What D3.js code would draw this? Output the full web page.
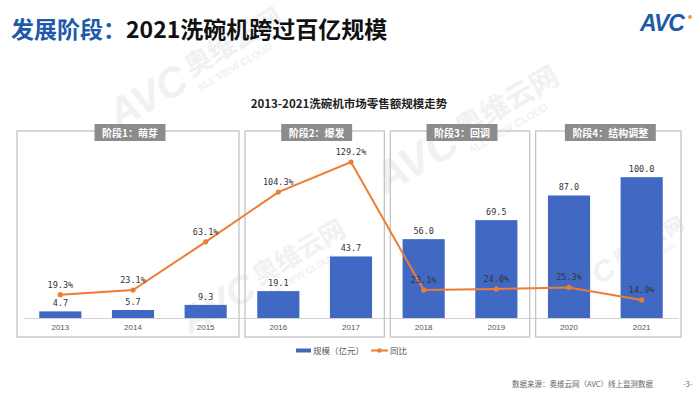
<!DOCTYPE html>
<html>
<head>
<meta charset="utf-8">
<script src="https://cdn.jsdelivr.net/npm/d3@7"></script>
<style>
  body { margin: 0; background: #fff; }
  svg { display: block; font-family: "Noto Sans CJK SC", "Noto Sans", sans-serif; }
</style>
</head>
<body>
<div id="chart"></div>
<script>
// chart data
var years = ["2013", "2014", "2015", "2016", "2017", "2018", "2019", "2020", "2021"];
var marketSize = [4.7, 5.7, 9.3, 19.1, 43.7, 56.0, 69.5, 87.0, 100.0];   // 规模（亿元）
var yoyGrowth = [19.3, 23.1, 63.1, 104.3, 129.2, 23.1, 24.0, 25.3, 14.9]; // 同比 %
var phaseNames = ["阶段1：萌芽", "阶段2：爆发", "阶段3：回调", "阶段4：结构调整"];
var phaseStart = ["2013", "2016", "2018", "2020"];
var phaseEnd = ["2015", "2017", "2019", "2021"];

var width = 700, height = 393;
var svg = d3.select("#chart").append("svg").attr("width", width).attr("height", height);
svg.append("rect").attr("width", width).attr("height", height).attr("fill", "#fff");

// faint watermarks in the background
var wmGroup = svg.append("g").attr("fill", "#f1f1f1");
[[118, 130, 0.9], [385, 195, 0.95], [190, 335, 0.85], [565, 305, 0.65]].forEach(function(p) {
  var g = wmGroup.append("g").attr("transform", "translate(" + p[0] + "," + p[1] + ") rotate(-30) scale(" + p[2] + ")");
  g.append("text").attr("font-size", 46).attr("font-weight", "bold").attr("font-style", "italic")
    .attr("font-family", "Liberation Sans, sans-serif").text("AVC");
  g.append("text").attr("x", 100).attr("y", -10).attr("font-size", 30).attr("font-weight", "bold").text("奥维云网");
  g.append("text").attr("x", 100).attr("y", 8).attr("font-size", 11).attr("font-weight", "bold")
    .attr("font-family", "Liberation Sans, sans-serif").text("ALL VIEW CLOUD");
});

// page title
var title = svg.append("text").attr("x", 11).attr("y", 38).attr("font-size", 23).attr("font-weight", "bold");
title.append("tspan").attr("fill", "#1d5aa7").text("发展阶段：");
title.append("tspan").attr("fill", "#111").text("2021洗碗机跨过百亿规模");

// AVC logo
var logo = svg.append("g");
logo.append("text").attr("x", 640).attr("y", 31).attr("font-size", 23).attr("font-weight", "bold")
  .attr("font-style", "italic").attr("font-family", "Liberation Sans, sans-serif")
  .attr("fill", "#1d5aa7").attr("letter-spacing", -1).text("AVC");
logo.append("circle").attr("cx", 690).attr("cy", 17).attr("r", 2).attr("fill", "#f0a030");

// chart title
svg.append("text").attr("x", 349).attr("y", 108).attr("text-anchor", "middle")
  .attr("font-size", 11.5).attr("font-weight", "bold").attr("fill", "#222")
  .text("2013-2021洗碗机市场零售额规模走势");

// scales
var xScale = d3.scaleBand().domain(years).range([24, 678]).paddingInner(0.42).paddingOuter(0.21);
var yBar = d3.scaleLinear().domain([0, 120]).range([318, 149]);
var yLine = d3.scaleLinear().domain([0, 140]).range([318, 149]);

var step = xScale.step();
function edgeOf(year) { return xScale(year) - step * 0.21; }

// phase boxes
phaseNames.forEach(function(name, i) {
  var left = i === 0 ? edgeOf(phaseStart[i]) - 7 : edgeOf(phaseStart[i]) + 3;
  var right = i === phaseNames.length - 1 ? edgeOf(phaseEnd[i]) + step + 3 : edgeOf(phaseEnd[i]) + step - 3;
  svg.append("rect").attr("x", left).attr("y", 131).attr("width", right - left).attr("height", 206)
    .attr("fill", "none").attr("stroke", "#c4c4c4").attr("stroke-width", 1.3);
  var cx = (left + right) / 2;
  var tag = svg.append("g");
  var tagRect = tag.append("rect").attr("y", 124).attr("height", 17).attr("fill", "#8c8c8c");
  var tagText = tag.append("text").attr("x", cx + 2).attr("y", 136.5).attr("text-anchor", "middle")
    .attr("font-size", 10).attr("font-weight", "bold").attr("fill", "#fff").text(name);
  var tw = tagText.node().getComputedTextLength() + 15;
  tagRect.attr("x", cx + 2 - tw / 2).attr("width", tw);
});

// x axis
var xAxis = svg.append("g").attr("transform", "translate(0,318)")
  .call(d3.axisBottom(xScale).tickSize(0).tickPadding(6));
xAxis.select(".domain").attr("stroke", "#d0d0d0");
xAxis.selectAll("text").attr("font-size", 8).attr("fill", "#555")
  .attr("font-family", "Liberation Sans, sans-serif");

// bars
svg.append("g").selectAll("rect").data(marketSize).enter().append("rect")
  .attr("x", function(d, i) { return xScale(years[i]); })
  .attr("y", function(d) { return yBar(d); })
  .attr("width", xScale.bandwidth())
  .attr("height", function(d) { return yBar(0) - yBar(d); })
  .attr("fill", "#4169c4");

svg.append("g").selectAll("text").data(marketSize).enter().append("text")
  .attr("x", function(d, i) { return xScale(years[i]) + xScale.bandwidth() / 2; })
  .attr("y", function(d) { return yBar(d) - 5; })
  .attr("text-anchor", "middle").attr("font-size", 8.5).attr("fill", "#333")
  .attr("font-family", "DejaVu Sans Mono, monospace")
  .text(function(d) { return d.toFixed(1); });

// growth line
var line = d3.line()
  .x(function(d, i) { return xScale(years[i]) + xScale.bandwidth() / 2; })
  .y(function(d) { return yLine(d); });

svg.append("path").datum(yoyGrowth).attr("d", line)
  .attr("fill", "none").attr("stroke", "#ed7d31").attr("stroke-width", 2);

svg.append("g").selectAll("circle").data(yoyGrowth).enter().append("circle")
  .attr("cx", function(d, i) { return xScale(years[i]) + xScale.bandwidth() / 2; })
  .attr("cy", function(d) { return yLine(d); })
  .attr("r", 2.6).attr("fill", "#ed7d31");

svg.append("g").selectAll("text").data(yoyGrowth).enter().append("text")
  .attr("x", function(d, i) { return xScale(years[i]) + xScale.bandwidth() / 2; })
  .attr("y", function(d) { return yLine(d) - 7; })
  .attr("text-anchor", "middle").attr("font-size", 8.5).attr("fill", "#333")
  .attr("font-family", "DejaVu Sans Mono, monospace")
  .text(function(d) { return d.toFixed(1) + "%"; });

// legend
var legend = svg.append("g").attr("font-size", 8.5).attr("fill", "#555");
legend.append("rect").attr("x", 296).attr("y", 348.5).attr("width", 15).attr("height", 4).attr("fill", "#4169c4");
legend.append("text").attr("x", 313).attr("y", 354).text("规模（亿元）");
legend.append("line").attr("x1", 371).attr("x2", 388).attr("y1", 350.5).attr("y2", 350.5)
  .attr("stroke", "#ed7d31").attr("stroke-width", 2);
legend.append("circle").attr("cx", 379.5).attr("cy", 350.5).attr("r", 2.3).attr("fill", "#ed7d31");
legend.append("text").attr("x", 390).attr("y", 354).text("同比");

// footer
svg.append("text").attr("x", 512).attr("y", 387).attr("font-size", 7.5).attr("fill", "#666")
  .text("数据来源：奥维云网（AVC）线上监测数据");
svg.append("text").attr("x", 683).attr("y", 387).attr("font-size", 7.5).attr("fill", "#666").text("-3-");
</script>
</body>
</html>
